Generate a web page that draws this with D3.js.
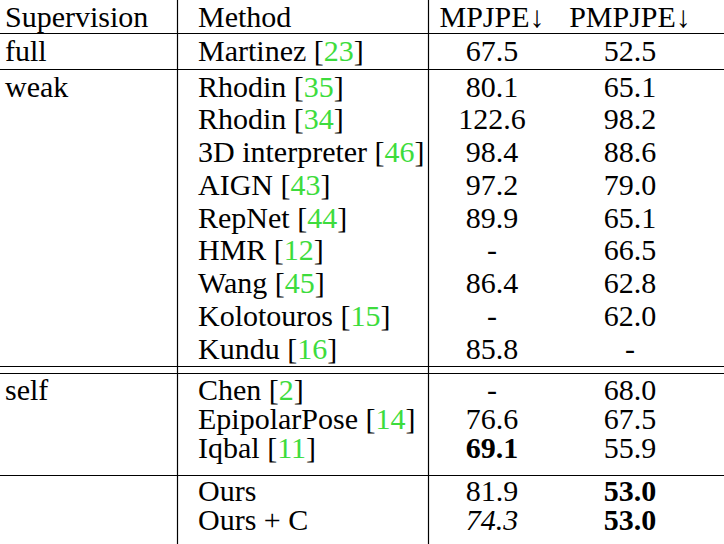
<!DOCTYPE html>
<html><head><meta charset="utf-8">
<script src="https://cdn.jsdelivr.net/npm/d3@7"></script>
<style>body{margin:0;background:#fff}</style>
</head><body><svg id="c" width="724" height="544"></svg>
<script>
const headers = ["Supervision", "Method", "MPJPE↓", "PMPJPE↓"];
const supervision = ["full","weak","","","","","","","","","self","","","",""];
const methods = ["Martinez","Rhodin","Rhodin","3D interpreter","AIGN","RepNet","HMR","Wang","Kolotouros","Kundu","Chen","EpipolarPose","Iqbal","Ours","Ours + C"];
const refs = ["23","35","34","46","43","44","12","45","15","16","2","14","11","",""];
const mpjpe = ["67.5","80.1","122.6","98.4","97.2","89.9","-","86.4","-","85.8","-","76.6","69.1","81.9","74.3"];
const pmpjpe = ["52.5","65.1","98.2","88.6","79.0","65.1","66.5","62.8","62.0","-","68.0","67.5","55.9","53.0","53.0"];
const mpStyle = ["","","","","","","","","","","","","b","","i"];
const pmStyle = ["","","","","","","","","","","","","","b","b"];

const svg = d3.select("#c");
const font = "'Liberation Serif','Times New Roman',serif";
const fs = 30;
const idx = d3.range(methods.length);
const yWeak = d3.scaleLinear().domain([1,9]).range([86,348]);
const ySelf = d3.scaleLinear().domain([10,12]).range([389,447]);
const yOurs = d3.scaleLinear().domain([13,14]).range([490,519]);
const ypos = i => i===0 ? 50 : i<=9 ? yWeak(i) : i<=12 ? ySelf(i) : yOurs(i);
const x = d3.scaleOrdinal().domain([0,1,2,3]).range([5,198,492,630]);
const anchor = ["start","start","middle","middle"];

const g = svg.append("g").attr("font-family",font).attr("font-size",fs).attr("fill","#000");
g.selectAll("text.h").data(headers).join("text")
  .attr("x",(d,i)=>x(i)).attr("y",16).attr("dy","0.35em")
  .attr("text-anchor",(d,i)=>anchor[i]).text(d=>d);
g.selectAll("text.s").data(idx.filter(i=>supervision[i])).join("text")
  .attr("x",x(0)).attr("y",i=>ypos(i)).attr("dy","0.35em").text(i=>supervision[i]);
const mt = g.selectAll("text.m").data(idx).join("text")
  .attr("x",x(1)).attr("y",i=>ypos(i)).attr("dy","0.35em");
mt.each(function(i){
  const t=d3.select(this);
  t.append("tspan").text(methods[i]+(refs[i]?" [":""));
  if(refs[i]){ t.append("tspan").attr("fill","#3ddc3d").text(refs[i]); t.append("tspan").text("]"); }
});
function num(col,vals,styles){
  g.selectAll("text.n"+col).data(idx).join("text")
    .attr("x",x(col)).attr("y",i=>ypos(i)).attr("dy","0.35em").attr("text-anchor","middle")
    .attr("font-weight",i=>styles[i]==="b"?"bold":null)
    .attr("font-style",i=>styles[i]==="i"?"italic":null)
    .text(i=>vals[i]);
}
num(2,mpjpe,mpStyle); num(3,pmpjpe,pmStyle);

const hl = [33,69,366,373,475];
svg.selectAll("line.h").data(hl).join("line")
  .attr("x1",0).attr("x2",724).attr("y1",d=>d+0.5).attr("y2",d=>d+0.5)
  .attr("stroke","#000").attr("stroke-width",1.2);
svg.selectAll("line.v").data([177,428]).join("line")
  .attr("x1",d=>d+0.5).attr("x2",d=>d+0.5).attr("y1",0).attr("y2",544)
  .attr("stroke","#000").attr("stroke-width",1.2);
</script></body></html>
